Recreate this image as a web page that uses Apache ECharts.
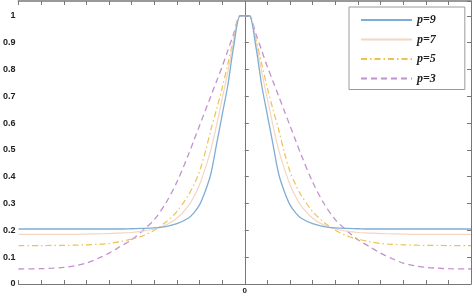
<!DOCTYPE html>
<html><head><meta charset="utf-8">
<script src="https://cdn.jsdelivr.net/npm/echarts@6/dist/echarts.min.js"></script>
<style>html,body{margin:0;padding:0;background:#fff}#c{width:474px;height:295px}</style>
</head><body><div id="c"></div>
<script>
// half-profile sample positions (curves are symmetric around 0)
const xs = [0, 0.2, 0.5, 0.75, 1, 1.25, 1.5, 1.75, 2, 2.25, 2.5, 3, 3.5, 4, 4.5, 5, 5.5, 6, 6.5, 7, 7.5, 8, 8.5, 9, 10];
const p9 = [1, 1, 0.88, 0.74, 0.63, 0.52, 0.41, 0.345, 0.295, 0.265, 0.245, 0.225, 0.214, 0.209, 0.207, 0.206, 0.205, 0.205, 0.205, 0.205, 0.205, 0.205, 0.205, 0.205, 0.205];
const p7 = [1, 1, 0.9, 0.79, 0.69, 0.59, 0.5, 0.43, 0.37, 0.325, 0.29, 0.245, 0.22, 0.205, 0.197, 0.192, 0.19, 0.188, 0.187, 0.186, 0.185, 0.185, 0.185, 0.185, 0.185];
const p5 = [1, 1, 0.91, 0.82, 0.73, 0.65, 0.575, 0.49, 0.42, 0.37, 0.33, 0.27, 0.23, 0.2, 0.18, 0.167, 0.158, 0.151, 0.148, 0.146, 0.145, 0.144, 0.144, 0.143, 0.143];
const p3 = [1, 1, 0.93, 0.87, 0.81, 0.755, 0.7, 0.645, 0.59, 0.535, 0.48, 0.38, 0.3, 0.24, 0.2, 0.165, 0.14, 0.115, 0.095, 0.078, 0.068, 0.062, 0.059, 0.057, 0.056];
const names = ['p=9', 'p=7', 'p=5', 'p=3'];
const xTickLabels = ['0'];

function full(vals) {
  const pts = [];
  for (let i = xs.length - 1; i > 0; i--) pts.push([-xs[i], vals[i]]);
  for (let i = 0; i < xs.length; i++) pts.push([xs[i], vals[i]]);
  return pts;
}

const chart = echarts.init(document.getElementById('c'), null, {renderer: 'canvas'});
const axisCol = '#777';
const styles = [
  {color: '#7eaed6', type: 'solid', width: 1.3},
  {color: '#f2d6c2', type: 'solid', width: 1.2},
  {color: '#efc24e', type: [6, 3, 1.5, 3], width: 1.2},
  {color: '#c390cf', type: [6, 4], width: 1.3}
];
const data = [p9, p7, p5, p3];
chart.setOption({
  animation: false,
  backgroundColor: '#fff',
  grid: {left: 12, right: 3, top: 1, bottom: 10, show: false},
  legend: {
    orient: 'vertical', left: 349, top: 7,
    padding: [7, 29, 5, 11], itemGap: 7.5, itemWidth: 51, itemHeight: 10,
    borderColor: '#9a9a9a', borderWidth: 1, backgroundColor: '#fff',
    itemStyle: {opacity: 0},
    textStyle: {fontFamily: 'Liberation Serif', fontStyle: 'italic', fontWeight: 'bold', fontSize: 12, color: '#222'},
    data: names
  },
  xAxis: [{
    type: 'value', min: -10, max: 10, interval: 1,
    axisLine: {lineStyle: {color: axisCol, width: 1}},
    axisTick: {inside: true, length: 4, lineStyle: {color: axisCol}},
    axisLabel: {margin: 3, fontSize: 8, fontWeight: 'bold', color: '#222', fontFamily: 'Liberation Sans',
      formatter: v => (v === 0 ? xTickLabels[0] : '')},
    splitLine: {show: false}
  }, {
    type: 'value', min: -10, max: 10, interval: 1, position: 'top',
    axisLine: {onZero: false, lineStyle: {color: '#999', width: 2}},
    axisTick: {inside: true, length: 4, lineStyle: {color: axisCol}},
    axisLabel: {show: false}, splitLine: {show: false}
  }],
  yAxis: [{
    type: 'value', min: 0, max: 1.055, interval: 0.1,
    axisLine: {show: true, lineStyle: {color: axisCol}},
    axisTick: {inside: true, length: 4, lineStyle: {color: axisCol}},
    axisLabel: {margin: 3, fontSize: 9, fontWeight: 'bold', color: '#222', fontFamily: 'Liberation Sans',
      showMaxLabel: false,
      formatter: v => {
        const r = Math.round(v * 10) / 10;
        if (Math.abs(r - v) > 1e-6 || v > 1.0001) return '';
        return r === 1 ? '1' : (r === 0 ? '0' : String(r));
      }},
    splitLine: {show: false}
  }, {
    type: 'value', min: 0, max: 1.055, interval: 0.1, position: 'right',
    axisLine: {show: true, onZero: false, lineStyle: {color: axisCol}},
    axisTick: {inside: true, length: 4, lineStyle: {color: axisCol}},
    axisLabel: {show: false}, splitLine: {show: false}
  }],
  series: names.map((n, i) => ({
    name: n, type: 'line', data: full(data[i]), symbol: 'none', smooth: 0.3,
    xAxisIndex: 0, yAxisIndex: 0,
    lineStyle: styles[i], itemStyle: {color: styles[i].color}, z: 10 - i
  }))
});
</script></body></html>
